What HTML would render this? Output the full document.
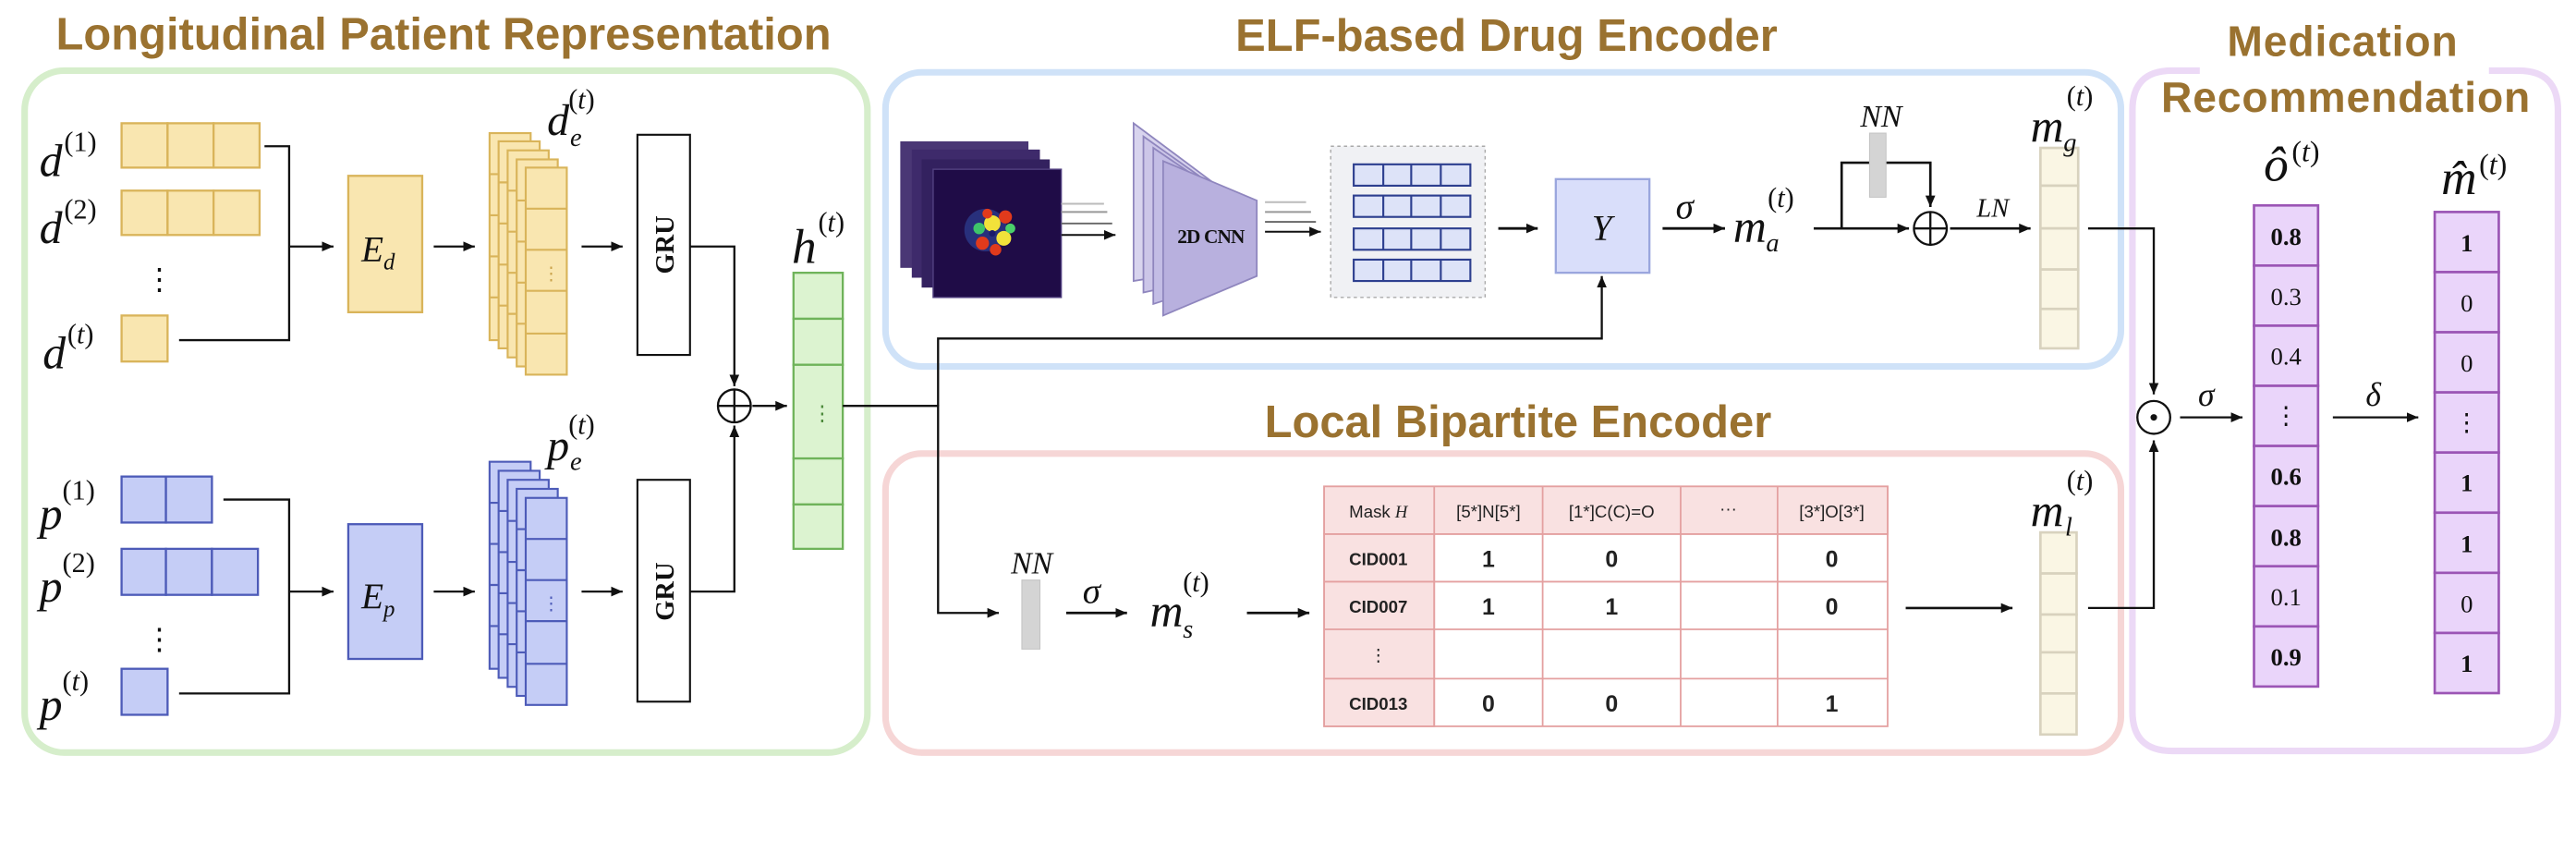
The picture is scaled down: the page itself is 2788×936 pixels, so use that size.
<!DOCTYPE html>
<html><head><meta charset="utf-8"><style>
html,body{margin:0;padding:0;background:#fff;}
svg{display:block;}
.t{font-family:"Liberation Sans",sans-serif;font-weight:bold;fill:#9a7230;}
.m{font-family:"Liberation Serif",serif;font-style:italic;fill:#111;}
.s{font-family:"Liberation Serif",serif;fill:#111;}
.a{font-family:"Liberation Sans",sans-serif;fill:#222;}
</style></head><body>
<svg width="2788" height="936" viewBox="0 0 1568 526.4" xmlns="http://www.w3.org/2000/svg">
<defs>
<marker id="ar" markerWidth="8" markerHeight="8" refX="7" refY="4" orient="auto" markerUnits="userSpaceOnUse"><path d="M0,1 L7,4 L0,7 Z" fill="#111"/></marker>
</defs>
<rect width="1568" height="526.4" fill="#fff"/>

<!-- Section boxes -->
<rect x="15" y="43" width="513" height="415" rx="24" fill="none" stroke="#d6eecb" stroke-width="4"/>
<rect x="539" y="44" width="752" height="179" rx="22" fill="none" stroke="#cfe2f8" stroke-width="4"/>
<rect x="539" y="276" width="752" height="182" rx="22" fill="none" stroke="#f6d6d6" stroke-width="4"/>
<path d="M1339,43 L1322,43 Q1298,43 1298,67 L1298,433 Q1298,457 1322,457 L1533,457 Q1557,457 1557,433 L1557,67 Q1557,43 1533,43 L1515,43" fill="none" stroke="#ecd9f6" stroke-width="4"/>

<!-- Titles -->
<text class="t" x="270" y="30" font-size="27.5" text-anchor="middle">Longitudinal Patient Representation</text>
<text class="t" x="917" y="31" font-size="27.5" text-anchor="middle">ELF-based Drug Encoder</text>
<text class="t" x="924" y="266" font-size="27.5" text-anchor="middle">Local Bipartite Encoder</text>
<text class="t" x="1426" y="34" font-size="26" text-anchor="middle" style="letter-spacing:0.5px">Medication</text>
<text class="t" x="1428" y="68" font-size="26" text-anchor="middle" style="letter-spacing:0.5px">Recommendation</text>

<!-- ===== Longitudinal ===== -->
<g fill="#f9e6b0" stroke="#d9b45a" stroke-width="1.3">
<rect x="74" y="75" width="28" height="27"/><rect x="102" y="75" width="28" height="27"/><rect x="130" y="75" width="28" height="27"/>
<rect x="74" y="116" width="28" height="27"/><rect x="102" y="116" width="28" height="27"/><rect x="130" y="116" width="28" height="27"/>
<rect x="74" y="192" width="28" height="28"/>
<rect x="212" y="107" width="45" height="83"/>
</g>
<g fill="#c5cdf6" stroke="#4d5bb8" stroke-width="1.3">
<rect x="74" y="290" width="27" height="28"/><rect x="101" y="290" width="28" height="28"/>
<rect x="74" y="334" width="27" height="28"/><rect x="101" y="334" width="28" height="28"/><rect x="129" y="334" width="28" height="28"/>
<rect x="74" y="407" width="28" height="28"/>
<rect x="212" y="319" width="45" height="82"/>
</g>
<text class="m" x="24" y="107" font-size="28">d</text><text class="s" x="39" y="92" font-size="17">(1)</text>
<text class="m" x="24" y="148" font-size="28">d</text><text class="s" x="39" y="133" font-size="17">(2)</text>
<text class="m" x="26" y="224" font-size="28">d</text><text class="s" x="41" y="209" font-size="17">(<tspan class="m">t</tspan>)</text>
<text class="s" x="88" y="176" font-size="18">⋮</text>
<text class="m" x="24" y="322" font-size="28">p</text><text class="s" x="38" y="304" font-size="17">(1)</text>
<text class="m" x="24" y="366" font-size="28">p</text><text class="s" x="38" y="348" font-size="17">(2)</text>
<text class="m" x="24" y="438" font-size="28">p</text><text class="s" x="38" y="420" font-size="17">(<tspan class="m">t</tspan>)</text>
<text class="s" x="88" y="395" font-size="18">⋮</text>
<text class="m" x="220" y="159" font-size="22">E<tspan font-size="14" dy="5">d</tspan></text>
<text class="m" x="220" y="370" font-size="22">E<tspan font-size="14" dy="5">p</tspan></text>

<g fill="none" stroke="#111" stroke-width="1.3">
<path d="M161,89 H176 V207 H109"/><path d="M176,150 H203" marker-end="url(#ar)"/>
<path d="M136,304 H176 V422 H109"/><path d="M176,360 H203" marker-end="url(#ar)"/>
<path d="M264,150 H289" marker-end="url(#ar)"/>
<path d="M264,360 H289" marker-end="url(#ar)"/>
<path d="M354,150 H379" marker-end="url(#ar)"/>
<path d="M354,360 H379" marker-end="url(#ar)"/>
<path d="M420,150 H447 V235" marker-end="url(#ar)"/>
<path d="M420,360 H447 V259" marker-end="url(#ar)"/>
<path d="M458,247 H479" marker-end="url(#ar)"/>
</g>
<circle cx="447" cy="247" r="10" fill="#fff" stroke="#111" stroke-width="1.3"/>
<path d="M437,247 H457 M447,237 V257" stroke="#111" stroke-width="1.3"/>

<!-- stacked d_e -->
<g stroke="#d9b45a" stroke-width="1.2" fill="#f9e6b0">
<rect x="298" y="81" width="25" height="126"/>
<rect x="303.5" y="86" width="25" height="126"/>
<rect x="309" y="91.5" width="25" height="126"/>
<rect x="314.5" y="97" width="25" height="126"/>
<rect x="320" y="102" width="25" height="126"/>
<path d="M298,106 h5 M298,131 h5 M298,156 h5 M298,181 h5 M303.5,111 h5 M303.5,136 h5 M303.5,161 h5 M303.5,186 h5 M309,116 h5 M309,141 h5 M309,166 h5 M309,191 h5 M314.5,122 h5 M314.5,147 h5 M314.5,172 h5 M314.5,197 h5 M320,127 h25 M320,152 h25 M320,177 h25 M320,203 h25" fill="none"/>
</g>
<text class="s" x="330" y="170" font-size="11" style="fill:#c9a24a">⋮</text>
<text class="m" x="333" y="82" font-size="27">d</text><text class="m" x="347" y="89" font-size="16">e</text><text class="s" x="346" y="66" font-size="17">(<tspan class="m">t</tspan>)</text>

<!-- stacked p_e -->
<g stroke="#4d5bb8" stroke-width="1.2" fill="#c5cdf6">
<rect x="298" y="281" width="25" height="126"/>
<rect x="303.5" y="286.5" width="25" height="126"/>
<rect x="309" y="292" width="25" height="126"/>
<rect x="314.5" y="297.5" width="25" height="126"/>
<rect x="320" y="303" width="25" height="126"/>
<path d="M298,306 h5 M298,331 h5 M298,356 h5 M298,381 h5 M303.5,311 h5 M303.5,336 h5 M303.5,361 h5 M303.5,386 h5 M309,317 h5 M309,342 h5 M309,367 h5 M309,392 h5 M314.5,322 h5 M314.5,347 h5 M314.5,372 h5 M314.5,397 h5 M320,328 h25 M320,353 h25 M320,378 h25 M320,404 h25" fill="none"/>
</g>
<text class="s" x="330" y="371" font-size="11" style="fill:#4d5bb8">⋮</text>
<text class="m" x="333" y="280" font-size="27">p</text><text class="m" x="347" y="286" font-size="16">e</text><text class="s" x="346" y="264" font-size="17">(<tspan class="m">t</tspan>)</text>

<!-- GRU boxes -->
<rect x="388" y="82" width="32" height="134" fill="#fff" stroke="#111" stroke-width="1.2"/>
<rect x="388" y="292" width="32" height="135" fill="#fff" stroke="#111" stroke-width="1.2"/>
<text class="s" font-weight="bold" font-size="16" transform="translate(410,149) rotate(-90)" text-anchor="middle">GRU</text>
<text class="s" font-weight="bold" font-size="16" transform="translate(410,360) rotate(-90)" text-anchor="middle">GRU</text>

<!-- h -->
<g fill="#dcf3d0" stroke="#6fb35a" stroke-width="1.3">
<rect x="483" y="166" width="30" height="28"/><rect x="483" y="194" width="30" height="28"/><rect x="483" y="222" width="30" height="57"/><rect x="483" y="279" width="30" height="28"/><rect x="483" y="307" width="30" height="27"/>
</g>
<text class="s" x="494" y="256" font-size="13" style="fill:#4d8a3c">⋮</text>
<text class="m" x="482" y="160" font-size="30">h</text><text class="s" x="498" y="141" font-size="17">(<tspan class="m">t</tspan>)</text>

<!-- connectors from h -->
<g fill="none" stroke="#111" stroke-width="1.3">
<path d="M513,247 H571 V373 H608" marker-end="url(#ar)"/>
<path d="M571,247 V206 H975 V168" marker-end="url(#ar)"/>
</g>

<!-- ===== ELF ===== -->
<rect x="548" y="86" width="78" height="77" fill="#4a3775"/>
<rect x="555" y="91" width="78" height="78" fill="#3e2a6b"/>
<rect x="561" y="97" width="78" height="78" fill="#33215f"/>
<rect x="568" y="103" width="78" height="78" fill="#1f0c47" stroke="#514080" stroke-width="0.8"/>
<g>
<circle cx="600" cy="140" r="13" fill="#2a3a8a" opacity="0.8"/>
<circle cx="598" cy="148" r="4" fill="#e03a1c"/><circle cx="612" cy="132" r="4" fill="#e03a1c"/>
<circle cx="604" cy="136" r="5" fill="#f2e23a"/><circle cx="611" cy="145" r="4.5" fill="#f2e23a"/>
<circle cx="596" cy="139" r="3.5" fill="#3ec46a"/><circle cx="606" cy="152" r="3.5" fill="#e03a1c"/>
<circle cx="615" cy="139" r="3" fill="#4ad06a"/><circle cx="601" cy="130" r="3" fill="#e03a1c"/>
<circle cx="604" cy="142" r="2" fill="#1a1a6a"/>
</g>
<g fill="none" stroke-width="1.1">
<path d="M646,124 H672" stroke="#bbb"/><path d="M646,129 H674" stroke="#999"/><path d="M646,136 H677" stroke="#666"/><path d="M646,143 H679" stroke="#111" marker-end="url(#ar)"/>
</g>
<!-- CNN -->
<g stroke="#8f86be" stroke-width="1">
<path d="M690,75 L745,116 L745,162 L690,171 Z" fill="#d8d4ee"/>
<path d="M696,83 L751,122 L751,166 L696,178 Z" fill="#ccc6e8"/>
<path d="M702,90 L758,128 L758,167 L702,185 Z" fill="#c3bde5"/>
<path d="M708,98 L765,122 L765,168 L708,192 Z" fill="#b8b0de"/>
</g>
<text class="s" x="737" y="148" font-size="12" font-weight="bold" text-anchor="middle" style="letter-spacing:-0.5px">2D CNN</text>
<g fill="none" stroke-width="1.1">
<path d="M770,123 H795" stroke="#bbb"/><path d="M770,129 H798" stroke="#999"/><path d="M770,135 H801" stroke="#666"/><path d="M770,141 H804" stroke="#111" marker-end="url(#ar)"/>
</g>
<rect x="810" y="89" width="94" height="92" fill="#f0f1f4" stroke="#aaa" stroke-dasharray="2,2" stroke-width="0.8"/>
<g fill="#dde3f8" stroke="#2d3f8f" stroke-width="1.2">
<rect x="824" y="100" width="71" height="13"/><rect x="824" y="119" width="71" height="13"/><rect x="824" y="139" width="71" height="13"/><rect x="824" y="158" width="71" height="13"/>
<path d="M842,100 v13 M859,100 v13 M877,100 v13 M842,119 v13 M859,119 v13 M877,119 v13 M842,139 v13 M859,139 v13 M877,139 v13 M842,158 v13 M859,158 v13 M877,158 v13" fill="none"/>
</g>
<path d="M912,139 H936" stroke="#111" stroke-width="1.6" marker-end="url(#ar)"/>
<rect x="947" y="109" width="57" height="57" fill="#d9defa" stroke="#9aa6dd" stroke-width="1.3"/>
<text class="m" x="975" y="146" font-size="22" text-anchor="middle">Y</text>
<path d="M1012,139 H1050" stroke="#111" stroke-width="1.6" marker-end="url(#ar)"/>
<text class="m" x="1020" y="133" font-size="22">σ</text>
<text class="m" x="1055" y="147" font-size="28">m</text><text class="m" x="1075" y="153" font-size="16">a</text><text class="s" x="1076" y="126" font-size="17">(<tspan class="m">t</tspan>)</text>
<g fill="none" stroke="#111" stroke-width="1.5">
<path d="M1104,139 H1162" marker-end="url(#ar)"/>
<path d="M1121,139 V99 H1175 V126" marker-end="url(#ar)"/>
<path d="M1187,139 H1236" marker-end="url(#ar)"/>
</g>
<rect x="1138" y="81" width="10" height="39" fill="#d4d4d4" stroke="#c4c4c4" stroke-width="0.6"/>
<text class="m" x="1145" y="77" font-size="19" text-anchor="middle">NN</text>
<circle cx="1175" cy="139" r="10" fill="#fff" stroke="#111" stroke-width="1.3"/>
<path d="M1165,139 H1185 M1175,129 V149" stroke="#111" stroke-width="1.3"/>
<text class="m" x="1213" y="132" font-size="16" text-anchor="middle">LN</text>
<g fill="#faf6e4" stroke="#d8d2be" stroke-width="1.5">
<rect x="1242" y="90" width="23" height="23"/><rect x="1242" y="113" width="23" height="26"/><rect x="1242" y="139" width="23" height="25"/><rect x="1242" y="164" width="23" height="24"/><rect x="1242" y="188" width="23" height="24"/>
</g>
<text class="m" x="1236" y="86" font-size="28">m</text><text class="m" x="1256" y="92" font-size="16">g</text><text class="s" x="1258" y="64" font-size="17">(<tspan class="m">t</tspan>)</text>

<!-- ===== Bipartite ===== -->
<rect x="622" y="353" width="11" height="42" fill="#d4d4d4" stroke="#c4c4c4" stroke-width="0.6"/>
<text class="m" x="628" y="349" font-size="19" text-anchor="middle">NN</text>
<path d="M649,373 H686" stroke="#111" stroke-width="1.5" marker-end="url(#ar)"/>
<text class="m" x="659" y="367" font-size="22">σ</text>
<text class="m" x="700" y="381" font-size="28">m</text><text class="m" x="720" y="388" font-size="16">s</text><text class="s" x="720" y="360" font-size="17">(<tspan class="m">t</tspan>)</text>
<path d="M759,373 H797" stroke="#111" stroke-width="1.5" marker-end="url(#ar)"/>

<g stroke="#e4a0a0" stroke-width="1">
<rect x="806" y="296" width="343" height="146" fill="#fff"/>
<rect x="806" y="296" width="343" height="29" fill="#f9e1e1"/>
<rect x="806" y="325" width="67" height="117" fill="#f9e1e1"/>
<path d="M873,296 V442 M939,296 V442 M1023,296 V442 M1082,296 V442 M806,325 H1149 M806,354 H1149 M806,383 H1149 M806,413 H1149" fill="none"/>
</g>
<g class="a" font-size="10.5" text-anchor="middle">
<text x="839" y="315" class="a" font-size="10.5">Mask <tspan font-family="Liberation Serif" font-style="italic">H</tspan></text>
<text x="906" y="315" class="a">[5*]N[5*]</text>
<text x="981" y="315" class="a">[1*]C(C)=O</text>
<text x="1052" y="313" class="a">···</text>
<text x="1115" y="315" class="a">[3*]O[3*]</text>
<text x="839" y="344" class="a" font-weight="bold">CID001</text>
<text x="839" y="373" class="a" font-weight="bold">CID007</text>
<text x="839" y="402" class="a">⋮</text>
<text x="839" y="432" class="a" font-weight="bold">CID013</text>
</g>
<g class="a" font-size="14" font-weight="bold" text-anchor="middle">
<text x="906" y="345">1</text><text x="981" y="345">0</text><text x="1115" y="345">0</text>
<text x="906" y="374">1</text><text x="981" y="374">1</text><text x="1115" y="374">0</text>
<text x="906" y="433">0</text><text x="981" y="433">0</text><text x="1115" y="433">1</text>
</g>
<path d="M1160,370 H1225" stroke="#111" stroke-width="1.5" marker-end="url(#ar)"/>
<g fill="#faf6e4" stroke="#d8d2be" stroke-width="1.5">
<rect x="1242" y="324" width="22" height="25"/><rect x="1242" y="349" width="22" height="25"/><rect x="1242" y="374" width="22" height="23"/><rect x="1242" y="397" width="22" height="25"/><rect x="1242" y="422" width="22" height="25"/>
</g>
<text class="m" x="1236" y="320" font-size="28">m</text><text class="m" x="1257" y="326" font-size="16">l</text><text class="s" x="1258" y="298" font-size="17">(<tspan class="m">t</tspan>)</text>

<!-- ===== Medication ===== -->
<g fill="none" stroke="#111" stroke-width="1.3">
<path d="M1271,139 H1311 V240" marker-end="url(#ar)"/>
<path d="M1271,370 H1311 V268" marker-end="url(#ar)"/>
<path d="M1327,254 H1365" marker-end="url(#ar)"/>
<path d="M1420,254 H1472" marker-end="url(#ar)"/>
</g>
<circle cx="1311" cy="254" r="10" fill="#fff" stroke="#111" stroke-width="1.3"/>
<circle cx="1311" cy="254" r="2" fill="#111"/>
<text class="m" x="1338" y="247" font-size="20">σ</text>
<text class="m" x="1440" y="247" font-size="20">δ</text>

<g fill="#ead5fa" stroke="#9b55b5" stroke-width="1.5">
<rect x="1372" y="125" width="39" height="36.6"/><rect x="1372" y="161.6" width="39" height="36.6"/><rect x="1372" y="198.2" width="39" height="36.6"/><rect x="1372" y="234.8" width="39" height="36.6"/><rect x="1372" y="271.4" width="39" height="36.6"/><rect x="1372" y="308" width="39" height="36.6"/><rect x="1372" y="344.6" width="39" height="36.6"/><rect x="1372" y="381.2" width="39" height="36.6"/>
<rect x="1482" y="129" width="39" height="36.6"/><rect x="1482" y="165.6" width="39" height="36.6"/><rect x="1482" y="202.2" width="39" height="36.6"/><rect x="1482" y="238.8" width="39" height="36.6"/><rect x="1482" y="275.4" width="39" height="36.6"/><rect x="1482" y="312" width="39" height="36.6"/><rect x="1482" y="348.6" width="39" height="36.6"/><rect x="1482" y="385.2" width="39" height="36.6"/>
</g>
<g class="s" font-size="15" text-anchor="middle">
<text x="1391.5" y="149" font-weight="bold">0.8</text>
<text x="1391.5" y="185.5">0.3</text>
<text x="1391.5" y="222">0.4</text>
<text x="1391.5" y="258">⋮</text>
<text x="1391.5" y="295" font-weight="bold">0.6</text>
<text x="1391.5" y="332" font-weight="bold">0.8</text>
<text x="1391.5" y="368.5">0.1</text>
<text x="1391.5" y="405" font-weight="bold">0.9</text>
<text x="1501.5" y="153" font-weight="bold">1</text>
<text x="1501.5" y="189.5">0</text>
<text x="1501.5" y="226">0</text>
<text x="1501.5" y="262">⋮</text>
<text x="1501.5" y="299" font-weight="bold">1</text>
<text x="1501.5" y="336" font-weight="bold">1</text>
<text x="1501.5" y="372.5">0</text>
<text x="1501.5" y="409" font-weight="bold">1</text>
</g>
<text class="m" x="1378" y="110" font-size="30">ô</text><text class="s" x="1395" y="98" font-size="18">(<tspan class="m">t</tspan>)</text>
<text class="m" x="1486" y="118" font-size="30">m̂</text><text class="s" x="1509" y="106" font-size="18">(<tspan class="m">t</tspan>)</text>
</svg>
</body></html>
